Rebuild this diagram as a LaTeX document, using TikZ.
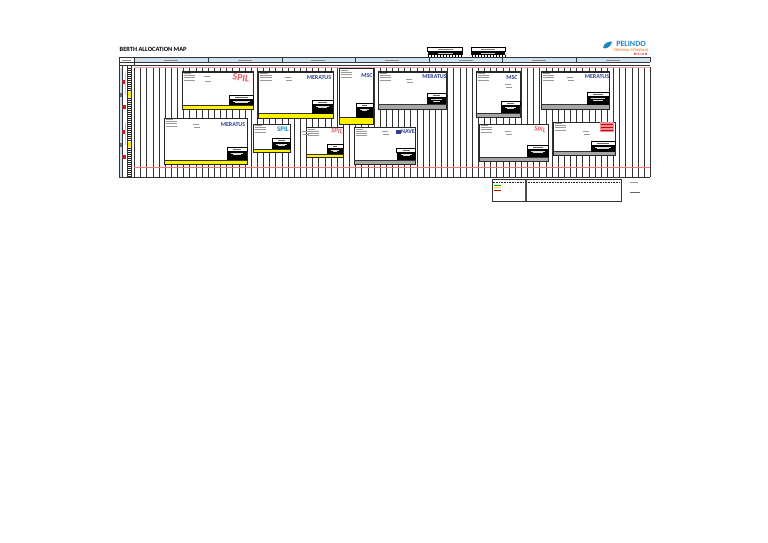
\documentclass[tikz,border=0pt]{standalone}
\usepackage{fontspec}
\setmainfont{Carlito}
\definecolor{pblue}{HTML}{1F86C0}
\definecolor{porange}{HTML}{E8883A}
\definecolor{merblue}{HTML}{2B3F8F}
\definecolor{hdrblue}{HTML}{CFE2F0}
\definecolor{bandgray}{HTML}{A6A6A6}
\definecolor{stamp}{HTML}{E8606A}
\tikzset{
  grid line/.style={draw=black!80,line width=0.85pt},
  frame line/.style={draw=black!80,line width=0.8pt},
  boxframe/.style={draw=black!85,line width=1pt},
  tiny rule/.style={draw=black!40,line width=0.5pt},
  logo text/.style={font=\bfseries\fontsize{6}{6}\selectfont,text=merblue,inner sep=0pt},
  stamp text/.style={font=\bfseries\fontsize{7}{7}\selectfont,text=stamp,inner sep=0pt,rotate=-10}
}
% x1 y1 x2 y2 bandtop colour labelleft labeltop
\newcommand{\berthbox}[8]{%
  \fill[white] (#1,#2) rectangle (#3,#4);
  \fill[#6] (#1,#5) rectangle (#3,#4);
  \draw[boxframe] (#1,#2) rectangle (#3,#4);
  \draw[frame line] (#1,#5) -- (#3,#5);
  \fill[black] (#7,#8+4) rectangle (#3,#5);
  \draw[black,line width=0.7pt,fill=white] (#7,#8) rectangle (#3,#8+4);
  \draw[white!85!black,line width=0.4pt] ({#7+4},#8+5.8) -- ({#3-4},#8+5.8);
  \draw[white!85!black,line width=0.4pt] ({#7+6},#8+7.6) -- ({#3-6},#8+7.6);
  \draw[black!60,line width=0.4pt] ({#7+6},#8+2) -- ({#3-6},#8+2);
  \foreach \k in {1,2,3} \draw[tiny rule] (#1+1.5,#2+1.5+\k*2.1) -- (#1+13,#2+1.5+\k*2.1);
  \draw[tiny rule] (#1+1.5,#2+1.5) -- (#1+9,#2+1.5);
}
\begin{document}
\begin{tikzpicture}[x=1pt,y=-1pt]
\useasboundingbox (0,0) rectangle (768,543);
\fill[white] (0,0) rectangle (768,543);
% title
\node[anchor=west,inner sep=0pt,font=\bfseries\fontsize{6.4}{6.4}\selectfont] (title) at (119.5,49) {BERTH ALLOCATION MAP};
% header band
\fill[hdrblue] (134,58) rectangle (650,62);
\foreach \x in {134,208,282,355,429,502,576,650} \draw[frame line] (\x,57) -- (\x,62);
\foreach \x in {171,245,318,392,466,539,613} \draw[black!45,line width=0.5pt] (\x-7,59.8) -- (\x+7,59.8);
\draw[black!45,line width=0.5pt] (122,59.8) -- (131,59.8);
% vertical grid
\foreach \k in {0,...,84} \draw[grid line] ({134.6+6.14*\k},67.5) -- ({134.6+6.14*\k},177);
% rows
\draw[frame line] (119,57) -- (650,57);
\draw[frame line] (119,62.3) -- (650,62.3);
\draw[frame line] (119,65) -- (650,65);
\draw[red!35,line width=0.5pt] (134,67.5) -- (650,67.5);
\draw[red!55,line width=0.5pt] (134,167.3) -- (650,167.3);
\draw[frame line] (119,177.2) -- (650,177.2);
\draw[frame line] (119,57) -- (119,177.2);
\draw[frame line] (134,57) -- (134,65);
% left column
\fill[hdrblue] (119.5,68) rectangle (122,177);
\draw[grid line] (122,65) -- (122,177);
\draw[grid line] (127.5,65) -- (127.5,177);
\draw[grid line] (131,65) -- (131,177);
\foreach \k in {0,...,54} \draw[black!85,line width=0.5pt] (127.5,{68+2*\k}) -- (131,{68+2*\k});
\fill[black!50!hdrblue] (119.5,93) rectangle (122,97);
\fill[black!50!hdrblue] (119.5,143) rectangle (122,147);
\foreach \y in {81.7,107,131.7,156.7} \fill[red!65!black!85] (122.3,\y-2.2) rectangle (125.7,\y+2.2);
\foreach \y in {94,144} \fill[yellow!90!orange] (127.5,\y-2.5) rectangle (131,\y+2.5);
\foreach \y in {81,131} \draw[red!30,line width=0.5pt] (125.5,\y-8) -- (125.5,\y+14);
% berth boxes
\berthbox{182}{72}{253.5}{109.5}{105}{yellow}{229}{95}
\berthbox{258.5}{72}{333}{118.7}{113.7}{yellow}{312}{100}
\berthbox{339}{69}{373}{124}{117.7}{yellow}{356}{103}
\berthbox{378}{72}{446}{109}{104.3}{bandgray}{427}{93.5}
\berthbox{164}{118}{247}{164}{160}{yellow}{227}{147}
\berthbox{253}{124}{290.5}{152}{149}{yellow}{272}{138}
\berthbox{306}{127.7}{343}{157.7}{154}{yellow}{327}{144}
\berthbox{354}{127.7}{415.7}{164}{160}{bandgray}{396.5}{148}
\berthbox{476}{72}{520}{117.7}{113}{bandgray}{501}{101}
\berthbox{541}{72}{609}{109.3}{104.7}{bandgray}{587}{92.5}
\berthbox{479}{124}{548.7}{161.7}{157}{bandgray}{527}{145}
\berthbox{553}{122}{615}{155}{151.7}{bandgray}{591}{141}
% second-column data marks
\foreach \x/\y in {204/76,205/81,285/77,286/80,406/79,407/82,193/124,194/127,382/131,383/134,302/131,303/134,505/84,506/87,567/77,568/80,505/131,506/134,583/131,584/134}
  \draw[tiny rule] (\x,\y) -- (\x+6,\y);
% logos
\node[logo text] (m1) at (319,77.5) {MERATUS};
\node[logo text] (m2) at (233,124.5) {MERATUS};
\node[logo text] (m3) at (434.5,76.5) {MERATUS};
\node[logo text] (m4) at (597,76.5) {MERATUS};
\node[logo text] (m5) at (367,75.5) {MSC};
\node[logo text] (m6) at (512,78) {MSC};
\node[logo text] (m7) at (408,132) {NAVE};
\fill[merblue] (396,129.5) rectangle (400.5,134);
\node[logo text,text=pblue,font=\bfseries\fontsize{7}{7}\selectfont] (m8) at (283,129) {SPIL};
\node[stamp text,font=\bfseries\fontsize{10}{10}\selectfont] (s1) at (241,78) {SPIL};
\node[stamp text] (s2) at (337,131) {SPIL};
\node[stamp text] (s3) at (540,129.5) {SPIL};
\fill[stamp!70] (600,122) rectangle (614,132);
\foreach \y in {124,127,130} \draw[red!80!black,line width=0.7pt] (601,\y) -- (613,\y);
% top boxes
\foreach \a/\b in {427.5/462.5,471/505} {
  \fill[black] (\a,51.7) rectangle (\b,55);
  \draw[black,line width=0.7pt,fill=white] (\a,47) rectangle (\b,51.7);
  \foreach \k in {0,...,11} \fill[black] ({\a+0.5+\k*3},55) rectangle ({\a+1.8+\k*3},57);
  \draw[black!50,line width=0.4pt] (\a+10,49.4) -- (\b-10,49.4);
  \draw[white!80!black,line width=0.4pt] (\a+10,53.3) -- (\b-10,53.3);
}
% legend
\draw[frame line,fill=white] (492.5,179.5) rectangle (621,201);
\draw[black!85,line width=0.7pt,dash pattern=on 1pt off 0.6pt] (492.5,182) -- (621,182);
\draw[black!70,line width=1.2pt] (526,179.5) -- (526,201);
\draw[green!70!black,line width=1pt] (494,185) -- (501,185);
\draw[yellow!90!orange,line width=1pt] (494,187.5) -- (501,187.5);
\draw[red!80!black,line width=1pt] (494,190) -- (501,190);
\draw[black!40,line width=0.5pt] (630,182) -- (638,182);
\draw[black!60,line width=0.7pt] (630,192) -- (640,192);
% Pelindo logo
\fill[pblue] (603,47.5) .. controls (604,43) and (608,41.5) .. (612,41.5) .. controls (611.5,45) and (609,48) .. (605,48.5) -- cycle;
\node[inner sep=0pt,font=\bfseries\fontsize{8}{8}\selectfont,text=pblue] (pel) at (631,44) {PELINDO};
\node[inner sep=0pt,font=\bfseries\fontsize{3.7}{3.7}\selectfont,text=porange] (ter) at (631,50) {TERMINAL PETIKEMAS};
\node[anchor=east,inner sep=0pt,font=\bfseries\fontsize{3.4}{3.4}\selectfont,text=red!80!black] (loc) at (647.5,54.3) {B I L I A N};
\end{tikzpicture}
\end{document}
